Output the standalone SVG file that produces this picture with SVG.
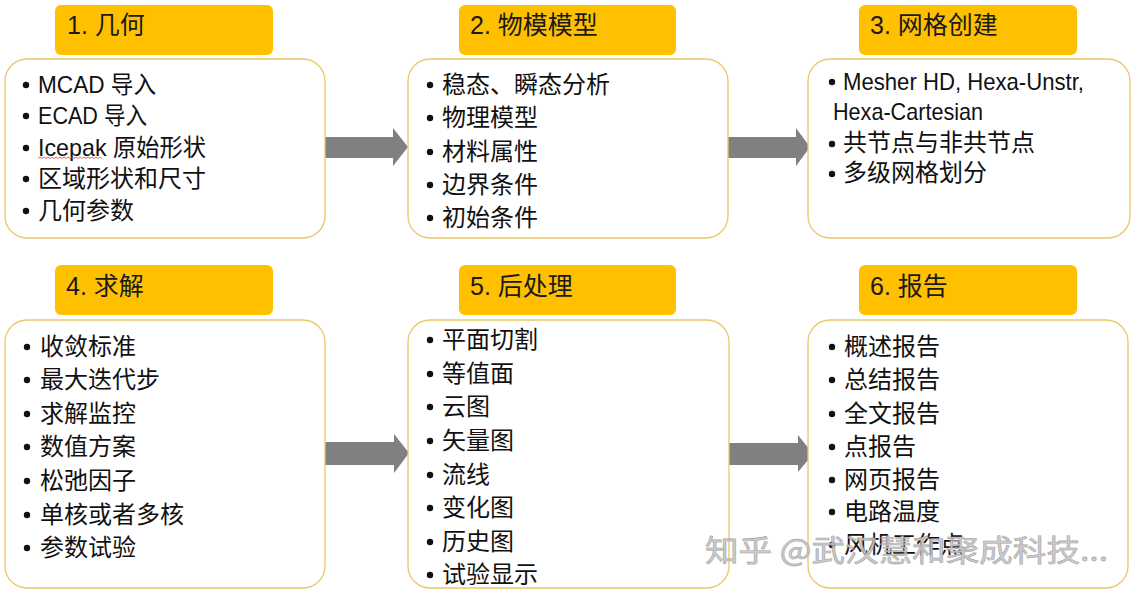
<svg xmlns="http://www.w3.org/2000/svg" width="1137" height="596" viewBox="0 0 1137 596">
<style>
.hdr{fill:#FFC000;}
.box{fill:#ffffff;stroke:#EBC866;stroke-width:1.3;}
.ht{font-family:"Liberation Sans","Noto Sans CJK SC",sans-serif;font-size:25px;fill:#1a1a1a;}
.it{font-family:"Liberation Sans","Noto Sans CJK SC",sans-serif;font-size:24px;fill:#111111;}
.bul{fill:#111111;}
.arr{fill:#808080;}
.wm{font-family:"Noto Sans CJK SC","Liberation Sans",sans-serif;font-size:30px;fill:#c8c8c8;stroke:#9a9a9a;stroke-width:0.6;opacity:0.9;}
</style>
<rect width="1137" height="596" fill="#ffffff"/>

<g id="connectors">
<polygon class="arr" points="324,137 393,137 393,128 408,147 393,166 393,158 324,158"/>
<polygon class="arr" points="726,137 796,137 796,128 810,147 796,166 796,158 726,158"/>
<polygon class="arr" points="324,442 394,442 394,434 409,453 394,473 394,465 324,465"/>
<polygon class="arr" points="728,443 798,443 798,435 813,454 798,472 798,465 728,465"/>
</g>

<g id="node1">
<rect class="hdr" x="55" y="5" width="218" height="50" rx="6"/>
<text class="ht" x="67" y="34">1. 几何</text>
<rect class="box" x="5" y="59" width="320" height="179" rx="22"/>
<circle class="bul" cx="26" cy="85" r="3.2"/><text class="it" x="38" y="92.5" textLength="118" lengthAdjust="spacingAndGlyphs">MCAD 导入</text>
<circle class="bul" cx="26" cy="116" r="3.2"/><text class="it" x="38" y="124" textLength="109" lengthAdjust="spacingAndGlyphs">ECAD 导入</text>
<circle class="bul" cx="26" cy="148" r="3.2"/><text class="it" x="38" y="156" textLength="168" lengthAdjust="spacingAndGlyphs">Icepak 原始形状</text>
<path d="M38,158.5 l2,-1.5 l2,1.5 l2,-1.5 l2,1.5 l2,-1.5 l2,1.5 l2,-1.5 l2,1.5 l2,-1.5 l2,1.5 l2,-1.5 l2,1.5 l2,-1.5 l2,1.5 l2,-1.5 l2,1.5 l2,-1.5 l2,1.5 l2,-1.5 l2,1.5 l2,-1.5 l2,1.5 l2,-1.5 l2,1.5 l2,-1.5 l2,1.5 l2,-1.5 l2,1.5 l2,-1.5 l2,1.5 l2,-1.5 l2,1.5" fill="none" stroke="#e04040" stroke-width="0.8"/>
<circle class="bul" cx="26" cy="179" r="3.2"/><text class="it" x="38" y="187">区域形状和尺寸</text>
<circle class="bul" cx="26" cy="211" r="3.2"/><text class="it" x="38" y="219">几何参数</text>
</g>

<g id="node2">
<rect class="hdr" x="459" y="5" width="217" height="50" rx="6"/>
<text class="ht" x="470" y="34">2. 物模模型</text>
<rect class="box" x="408" y="59" width="320" height="179" rx="22"/>
<circle class="bul" cx="430" cy="85" r="3.2"/><text class="it" x="442" y="93">稳态、瞬态分析</text>
<circle class="bul" cx="430" cy="118" r="3.2"/><text class="it" x="442" y="126">物理模型</text>
<circle class="bul" cx="430" cy="152" r="3.2"/><text class="it" x="442" y="160">材料属性</text>
<circle class="bul" cx="430" cy="185" r="3.2"/><text class="it" x="442" y="193">边界条件</text>
<circle class="bul" cx="430" cy="218" r="3.2"/><text class="it" x="442" y="226">初始条件</text>
</g>

<g id="node3">
<rect class="hdr" x="859" y="5" width="218" height="50" rx="6"/>
<text class="ht" x="870" y="34">3. 网格创建</text>
<rect class="box" x="808" y="59" width="322" height="179" rx="22"/>
<circle class="bul" cx="832" cy="82" r="3.2"/><text class="it" x="843" y="90" textLength="241" lengthAdjust="spacingAndGlyphs">Mesher HD, Hexa-Unstr,</text>
<text class="it" x="833" y="120" textLength="150" lengthAdjust="spacingAndGlyphs">Hexa-Cartesian</text>
<circle class="bul" cx="832" cy="144" r="3.2"/><text class="it" x="843" y="151">共节点与非共节点</text>
<circle class="bul" cx="832" cy="174" r="3.2"/><text class="it" x="843" y="181">多级网格划分</text>
</g>

<g id="node4">
<rect class="hdr" x="55" y="265" width="218" height="50" rx="6"/>
<text class="ht" x="66" y="295">4. 求解</text>
<rect class="box" x="5" y="320" width="320" height="268" rx="22"/>
<circle class="bul" cx="27" cy="347" r="3.2"/><text class="it" x="40" y="355">收敛标准</text>
<circle class="bul" cx="27" cy="380" r="3.2"/><text class="it" x="40" y="388">最大迭代步</text>
<circle class="bul" cx="27" cy="414" r="3.2"/><text class="it" x="40" y="422">求解监控</text>
<circle class="bul" cx="27" cy="447" r="3.2"/><text class="it" x="40" y="455">数值方案</text>
<circle class="bul" cx="27" cy="481" r="3.2"/><text class="it" x="40" y="489">松弛因子</text>
<circle class="bul" cx="27" cy="515" r="3.2"/><text class="it" x="40" y="523">单核或者多核</text>
<circle class="bul" cx="27" cy="548" r="3.2"/><text class="it" x="40" y="556">参数试验</text>
</g>

<g id="node5">
<rect class="hdr" x="459" y="265" width="217" height="50" rx="6"/>
<text class="ht" x="470" y="295">5. 后处理</text>
<rect class="box" x="408" y="320" width="321" height="268" rx="22"/>
<circle class="bul" cx="430" cy="340" r="3.2"/><text class="it" x="442" y="348">平面切割</text>
<circle class="bul" cx="430" cy="374" r="3.2"/><text class="it" x="442" y="382">等值面</text>
<circle class="bul" cx="430" cy="407" r="3.2"/><text class="it" x="442" y="415">云图</text>
<circle class="bul" cx="430" cy="441" r="3.2"/><text class="it" x="442" y="449">矢量图</text>
<circle class="bul" cx="430" cy="475" r="3.2"/><text class="it" x="442" y="483">流线</text>
<circle class="bul" cx="430" cy="508" r="3.2"/><text class="it" x="442" y="516">变化图</text>
<circle class="bul" cx="430" cy="542" r="3.2"/><text class="it" x="442" y="550">历史图</text>
<circle class="bul" cx="430" cy="575" r="3.2"/><text class="it" x="442" y="583">试验显示</text>
</g>

<g id="node6">
<rect class="hdr" x="859" y="265" width="218" height="50" rx="6"/>
<text class="ht" x="870" y="295">6. 报告</text>
<rect class="box" x="808" y="320" width="320" height="268" rx="22"/>
<circle class="bul" cx="832" cy="347" r="3.2"/><text class="it" x="844" y="355">概述报告</text>
<circle class="bul" cx="832" cy="380" r="3.2"/><text class="it" x="844" y="388">总结报告</text>
<circle class="bul" cx="832" cy="414" r="3.2"/><text class="it" x="844" y="422">全文报告</text>
<circle class="bul" cx="832" cy="447" r="3.2"/><text class="it" x="844" y="455">点报告</text>
<circle class="bul" cx="832" cy="480" r="3.2"/><text class="it" x="844" y="488">网页报告</text>
<circle class="bul" cx="832" cy="512" r="3.2"/><text class="it" x="844" y="520">电路温度</text>
<circle class="bul" cx="832" cy="545" r="3.2"/><text class="it" x="844" y="553">风机工作点</text>
</g>

<text class="wm" x="705" y="561" textLength="403" lengthAdjust="spacingAndGlyphs">知乎 @武汉慧和聚成科技...</text>
</svg>
